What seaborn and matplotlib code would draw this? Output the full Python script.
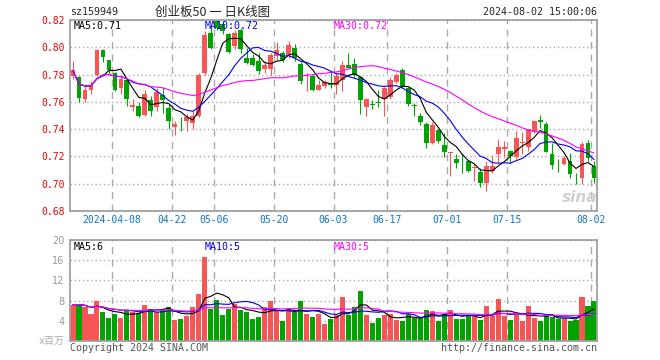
import numpy as np
import pandas as pd
import matplotlib
matplotlib.use('Agg')
import matplotlib.pyplot as plt
import seaborn as sns

# 日K数据
opens = [0.779, 0.778, 0.762, 0.769, 0.780, 0.798, 0.791, 0.781, 0.770, 0.776,
         0.756, 0.7566, 0.7505, 0.761, 0.756, 0.7647, 0.7556, 0.7413, 0.7455, 0.7457,
         0.7442, 0.7494, 0.7813, 0.8104, 0.819, 0.817, 0.8096, 0.801, 0.8129, 0.7924,
         0.7925, 0.790, 0.7844, 0.7844, 0.7935, 0.7961, 0.794, 0.7993, 0.7874, 0.779,
         0.7788, 0.769, 0.7714, 0.7741, 0.772, 0.776, 0.787, 0.7874, 0.7783, 0.756,
         0.7585, 0.760, 0.762, 0.7632, 0.7746, 0.7832, 0.7704, 0.758, 0.750, 0.7437,
         0.730, 0.7393, 0.7287, 0.7228, 0.7183, 0.7145, 0.717, 0.7115, 0.7087, 0.7005,
         0.7096, 0.7217, 0.7255, 0.724, 0.7198, 0.730, 0.7269, 0.7376, 0.7465, 0.7439,
         0.7215, 0.7125, 0.7141, 0.7163, 0.7045, 0.704, 0.7302, 0.7128]
highs = [0.790, 0.779, 0.772, 0.775, 0.7985, 0.799, 0.791, 0.782, 0.779, 0.777,
         0.762, 0.760, 0.769, 0.7645, 0.770, 0.771, 0.7585, 0.746, 0.749, 0.751,
         0.7536, 0.781, 0.812, 0.815, 0.8215, 0.819, 0.8105, 0.8126, 0.814, 0.7995,
         0.795, 0.796, 0.790, 0.796, 0.804, 0.797, 0.8045, 0.8025, 0.789, 0.781,
         0.7795, 0.7758, 0.7758, 0.7828, 0.781, 0.790, 0.7955, 0.792, 0.779, 0.763,
         0.7615, 0.7684, 0.771, 0.778, 0.781, 0.7845, 0.771, 0.759, 0.752, 0.745,
         0.745, 0.740, 0.737, 0.7235, 0.7217, 0.7217, 0.7175, 0.7143, 0.7115, 0.7165,
         0.7212, 0.7328, 0.731, 0.725, 0.7385, 0.738, 0.740, 0.7465, 0.7505, 0.7455,
         0.730, 0.7183, 0.720, 0.7225, 0.7076, 0.7304, 0.732, 0.717]
lows = [0.777, 0.760, 0.760, 0.766, 0.779, 0.789, 0.781, 0.768, 0.766, 0.757,
        0.753, 0.749, 0.750, 0.750, 0.753, 0.752, 0.740, 0.736, 0.7385, 0.7385,
        0.740, 0.749, 0.7795, 0.799, 0.813, 0.810, 0.7955, 0.7988, 0.796, 0.7875,
        0.786, 0.7805, 0.781, 0.7795, 0.791, 0.789, 0.7925, 0.790, 0.773, 0.768,
        0.768, 0.7685, 0.7705, 0.7704, 0.766, 0.768, 0.7845, 0.778, 0.751, 0.750,
        0.755, 0.756, 0.750, 0.762, 0.774, 0.770, 0.757, 0.750, 0.743, 0.7265,
        0.729, 0.730, 0.7195, 0.7055, 0.7117, 0.708, 0.7085, 0.702, 0.6973, 0.6943,
        0.708, 0.7156, 0.7195, 0.7155, 0.718, 0.7215, 0.724, 0.737, 0.741, 0.723,
        0.711, 0.7087, 0.714, 0.704, 0.700, 0.700, 0.7165, 0.7005]
closes = [0.783, 0.763, 0.769, 0.772, 0.798, 0.793, 0.783, 0.769, 0.777, 0.762,
          0.758, 0.750, 0.766, 0.753, 0.767, 0.7615, 0.7462, 0.7437, 0.745, 0.749,
          0.7494, 0.7795, 0.8092, 0.7993, 0.8145, 0.812, 0.7965, 0.8104, 0.7985, 0.7887,
          0.7872, 0.7825, 0.7869, 0.7943, 0.798, 0.7905, 0.802, 0.792, 0.7755, 0.780,
          0.7685, 0.772, 0.7746, 0.772, 0.779, 0.787, 0.785, 0.7795, 0.761, 0.762,
          0.7578, 0.7595, 0.770, 0.7763, 0.780, 0.771, 0.7585, 0.757, 0.745, 0.730,
          0.7432, 0.7315, 0.7235, 0.7232, 0.715, 0.7143, 0.709, 0.7118, 0.7005, 0.7128,
          0.7128, 0.7272, 0.727, 0.720, 0.7333, 0.7306, 0.7398, 0.7457, 0.7455, 0.7235,
          0.714, 0.712, 0.7188, 0.707, 0.704, 0.7289, 0.719, 0.704]
# 成交量 (百万)
volumes = [7.2, 7.2, 6.8, 5.4, 7.9, 5.8, 4.6, 5.4, 4.6, 6.1,
           5.8, 5.5, 7.2, 6.4, 5.8, 6.4, 6.8, 4.2, 4.4, 5.0,
           6.8, 9.4, 16.6, 6.4, 8.2, 5.2, 6.4, 7.4, 6.2, 5.8,
           4.4, 4.8, 6.8, 8.0, 6.2, 4.0, 6.2, 5.8, 8.0, 5.4,
           4.8, 5.4, 3.4, 4.4, 5.2, 8.7, 5.2, 6.7, 9.9, 5.2,
           3.5, 4.6, 5.2, 5.4, 4.2, 3.9, 5.4, 4.6, 4.6, 6.2,
           5.9, 4.0, 5.4, 6.2, 4.4, 4.4, 5.0, 5.0, 4.2, 7.0,
           5.0, 8.4, 5.0, 4.2, 5.4, 3.9, 7.0, 4.6, 4.0, 5.0,
           4.8, 4.4, 4.4, 4.0, 4.2, 8.8, 6.9, 8.0]

holidays = ['2024-04-04', '2024-04-05', '2024-05-01', '2024-05-02', '2024-05-03', '2024-06-10']
tick_days = ['2024-04-08', '2024-04-22', '2024-05-06', '2024-05-20', '2024-06-03',
             '2024-06-17', '2024-07-01', '2024-07-15', '2024-08-02']
price_ticks = [0.68, 0.70, 0.72, 0.74, 0.76, 0.78, 0.80, 0.82]
vol_ticks = [0, 4, 8, 12, 16, 20]

days = pd.bdate_range('2024-03-26', '2024-08-02')
days = days[~days.isin(pd.to_datetime(holidays))]

df = pd.DataFrame({'day': days, 'open': opens, 'high': highs, 'low': lows,
                   'close': closes, 'vol': volumes})
df['x'] = np.arange(len(df))
df['trend'] = np.where(df['close'] >= df['open'], 'up', 'down')
for n in (5, 10, 30):
    df[f'ma{n}'] = df['close'].rolling(n, min_periods=1).mean()
    df[f'vma{n}'] = df['vol'].rolling(n, min_periods=1).mean()

RED = '#f85656'
GREEN = '#00a300'
GRID = '#aaaaaa'
FRAME = '#a0a0a0'
palette = {'up': RED, 'down': GREEN}

sns.set_style('white')
plt.rcParams['font.family'] = ['DejaVu Sans Mono', 'Noto Sans CJK SC']
plt.rcParams['axes.unicode_minus'] = False

W, H = 660, 360
fig = plt.figure(figsize=(W / 100, H / 100), dpi=100)
ax = fig.add_axes([70 / W, 1 - 211 / H, 527 / W, 191 / H])
axv = fig.add_axes([70 / W, 1 - 341 / H, 527 / W, 101 / H])

# ---- K线 ----
colors = df['trend'].map(palette)
ax.vlines(df['x'], df['low'], df['high'], colors=colors, lw=0.8, zorder=2)
body = (df['close'] - df['open']).abs().clip(lower=0.0004)
ax.bar(df['x'], body, bottom=df[['open', 'close']].min(axis=1), width=0.8,
       color=colors, linewidth=0, zorder=3)
sns.lineplot(data=df, x='x', y='ma5', ax=ax, color='black', lw=0.8, zorder=4)
sns.lineplot(data=df, x='x', y='ma10', ax=ax, color='#0000ee', lw=0.8, zorder=4)
sns.lineplot(data=df, x='x', y='ma30', ax=ax, color='#ff00ff', lw=0.8, zorder=4)

# ---- 成交量 ----
sns.barplot(data=df, x='x', y='vol', hue='trend', palette=palette, dodge=False,
            width=0.85, saturation=1, legend=False, linewidth=0, ax=axv, zorder=2)
sns.lineplot(data=df, x='x', y='vma5', ax=axv, color='black', lw=0.8, zorder=4)
sns.lineplot(data=df, x='x', y='vma10', ax=axv, color='#0000ee', lw=0.8, zorder=4)
sns.lineplot(data=df, x='x', y='vma30', ax=axv, color='#ff00ff', lw=0.8, zorder=4)

tick_idx = [int(np.where(df['day'] == pd.Timestamp(d))[0][0]) for d in tick_days]
tick_pos = [i - 0.5 for i in tick_idx]
tick_lbl = [pd.Timestamp(d).strftime('%Y-%m-%d' if k == 0 else '%m-%d')
            for k, d in enumerate(tick_days)]

for a in (ax, axv):
    a.set_xlim(-0.5, len(df) - 0.5)
    a.set_xlabel('')
    a.set_ylabel('')
    a.set_xticks(tick_pos)
    a.grid(axis='x', color=GRID, linestyle=(0, (5, 4)), lw=1.0)
    a.grid(axis='y', color=GRID, linestyle=(0, (1, 2)), lw=1.0)
    a.set_axisbelow(True)
    for s in a.spines.values():
        s.set_color(FRAME)
        s.set_linewidth(1.3)
    a.tick_params(length=0)

ax.set_ylim(0.68, 0.82)
ax.set_yticks(price_ticks)
ax.set_yticklabels([f'{v:.2f}' for v in price_ticks], color='#ee0000', fontsize=7.0)
ax.set_xticklabels(tick_lbl, color='#0a74c8', fontsize=7.0)
ax.tick_params(axis='y', pad=4)
ax.tick_params(axis='x', pad=3)

axv.set_ylim(0, 20)
axv.set_yticks(vol_ticks)
axv.set_yticklabels([''] + [str(v) for v in vol_ticks[1:]], color='#999999',
                    fontsize=7.0, family='DejaVu Sans')
axv.set_xticklabels([])
axv.tick_params(axis='y', pad=4)

# ---- 文字 ----
fig.text(70 / W, 1 - 12 / H, 'sz159949', ha='left', va='center', fontsize=7.2)
fig.text(213 / W, 1 - 12 / H, '创业板50 一 日K线图', ha='center', va='center',
         fontsize=9, family=['Noto Sans CJK SC', 'DejaVu Sans'])
fig.text(597 / W, 1 - 12 / H, '2024-08-02 15:00:06', ha='right', va='center', fontsize=7.2)

last = df.iloc[-1]
fig.text(74 / W, 1 - 26 / H, f"MA5:{last['ma5']:.2f}", color='black', va='center', fontsize=7.2)
fig.text(205 / W, 1 - 26 / H, f"MA10:{last['ma10']:.2f}", color='#0000ee', va='center', fontsize=7.2)
fig.text(334 / W, 1 - 26 / H, f"MA30:{last['ma30']:.2f}", color='#ff00ff', va='center', fontsize=7.2)
fig.text(74 / W, 1 - 247 / H, f"MA5:{last['vma5']:.0f}", color='black', va='center', fontsize=7.2)
fig.text(205 / W, 1 - 247 / H, f"MA10:{last['vma10']:.0f}", color='#0000ee', va='center', fontsize=7.2)
fig.text(334 / W, 1 - 247 / H, f"MA30:{last['vma30']:.0f}", color='#ff00ff', va='center', fontsize=7.2)

fig.text(65 / W, 1 - 341 / H, 'x百万', ha='right', va='center', color='#aaaaaa',
         fontsize=7.2, family=['DejaVu Sans Mono', 'Noto Sans CJK SC'])
fig.text(70 / W, 1 - 348 / H, 'Copyright 2024 SINA.COM', ha='left', va='center',
         color='#555555', fontsize=7.2)
fig.text(597 / W, 1 - 348 / H, 'http://finance.sina.com.cn', ha='right', va='center',
         color='#555555', fontsize=7.2)
fig.text(580 / W, 1 - 197 / H, 'sina', ha='center', va='center', color='#cfcfcf',
         fontsize=11, fontweight='bold', style='italic', family='DejaVu Sans')

fig.savefig('out.png', dpi=100)
